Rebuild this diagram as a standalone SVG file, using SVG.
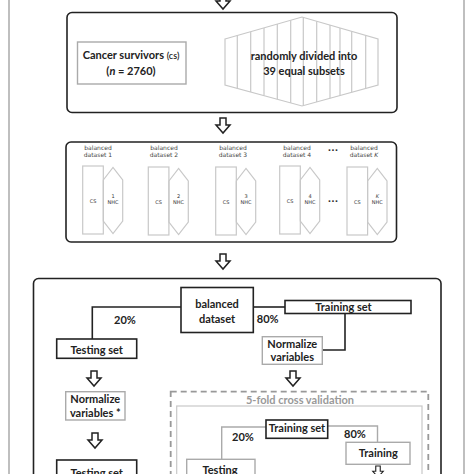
<svg xmlns="http://www.w3.org/2000/svg" width="474" height="474" viewBox="0 0 474 474">
<defs>
<style>
.t{font-family:Lato,"Liberation Sans",sans-serif;font-weight:bold;font-size:11px;fill:#222;text-anchor:middle}
.tg{font-family:Lato,"Liberation Sans",sans-serif;font-weight:bold;font-size:11px;fill:#999;text-anchor:middle}
.s{font-family:"DejaVu Sans",sans-serif;font-size:6px;fill:#444;text-anchor:middle}
.xs{font-family:"DejaVu Sans",sans-serif;font-size:5px;fill:#333;text-anchor:middle}
.dots{font-family:"DejaVu Sans",sans-serif;font-size:9px;fill:#333;text-anchor:middle;font-weight:bold}
.blk{fill:#fff;stroke:#222;stroke-width:1.6}
.gry{fill:#fff;stroke:#aaa;stroke-width:1.4}
.lgry{fill:none;stroke:#c8c8c8;stroke-width:1.2}
.ln{fill:none;stroke:#222;stroke-width:1.6}
.lng{fill:none;stroke:#aaa;stroke-width:1.4}
.arr{fill:#fff;stroke:#222;stroke-width:1.5;stroke-linejoin:miter}
</style>
<path id="arrow" d="M-3,0 h6 v7 h4 l-7,8 l-7,-8 h4 z"/>
<g id="ds">
<rect x="0" y="0" width="20.6" height="68" class="lgry" fill="#fff"/>
<path d="M20.6,14 L30.3,1.5 L40,14 L40,55 L30.3,67.5 L20.6,55 Z" class="lgry"/>
<text x="10.3" y="37" class="xs">CS</text>
</g>
</defs>

<!-- outer frame lines -->
<line x1="9" y1="0" x2="9" y2="474" stroke="#aaa" stroke-width="1.5"/>
<line x1="464" y1="0" x2="464" y2="474" stroke="#aaa" stroke-width="1.5"/>

<!-- Box 1 -->
<g id="box1">
<rect x="67" y="12.5" width="330" height="100" rx="5" class="blk"/>
<g id="cs">
<rect x="77.5" y="42" width="108.5" height="42" class="gry"/>
<text x="131" y="59" class="t">Cancer survivors <tspan font-size="9" font-weight="600">(cs)</tspan></text>
<text x="131" y="75" class="t">(<tspan font-style="italic">n</tspan> = 2760)</text>
</g>
<g id="subsets">
<path d="M225,39 L302,17 L378,39 L378,85 L302,106 L225,85 Z" class="lgry"/>
<path class="lgry" d="M237.3,35.5V88.4M250.7,31.7V92M264,27.9V95.6M277.3,24.1V99.3M290.7,20.2V102.9M303.3,17.4V105.6M316.7,21.3V101.9M330,25.1V98.3M340,28V95.5M351.7,31.4V92.3M365.7,35.4V88.4"/>
<text x="304" y="60" class="t">randomly divided into</text>
<text x="304" y="75" class="t">39 equal subsets</text>
</g>
</g>

<!-- Box 2 -->
<g id="box2">
<rect x="66" y="142" width="330.5" height="100" rx="5" class="blk"/>
<g id="d1"><use href="#ds" x="82.7" y="166"/><text x="113" y="197.5" class="xs">1</text><text x="113" y="203.5" class="xs">NHC</text>
<text x="98" y="149.5" class="s">balanced</text><text x="98" y="156.5" class="s">dataset 1</text></g>
<g id="d2"><use href="#ds" x="148.3" y="167"/><text x="178.6" y="198" class="xs">2</text><text x="178.6" y="204" class="xs">NHC</text>
<text x="164" y="149.5" class="s">balanced</text><text x="164" y="156.5" class="s">dataset 2</text></g>
<g id="d3"><use href="#ds" x="215.7" y="167"/><text x="246" y="198" class="xs">3</text><text x="246" y="204" class="xs">NHC</text>
<text x="233" y="149.5" class="s">balanced</text><text x="233" y="156.5" class="s">dataset 3</text></g>
<g id="d4"><use href="#ds" x="279.7" y="166"/><text x="310" y="197.5" class="xs">4</text><text x="310" y="203.5" class="xs">NHC</text>
<text x="297" y="149.5" class="s">balanced</text><text x="297" y="156.5" class="s">dataset 4</text></g>
<g id="dk"><use href="#ds" x="347" y="167"/><text x="377.3" y="198" class="xs" font-style="italic">K</text><text x="377.3" y="204" class="xs">NHC</text>
<text x="364" y="149.5" class="s">balanced</text><text x="364" y="156.5" class="s">dataset <tspan font-style="italic">K</tspan></text></g>
<text x="333" y="153" class="dots">···</text>
<text x="333" y="204" class="dots">···</text>
</g>

<!-- Box 3 -->
<g id="box3">
<rect x="33.5" y="278.5" width="407.5" height="210" rx="5" class="blk"/>
</g>

<g id="connectors">
<use href="#arrow" x="223" y="-6" class="arr"/>
<use href="#arrow" x="223" y="118" class="arr"/>
<use href="#arrow" x="223" y="254" class="arr"/>
<use href="#arrow" x="94" y="371" class="arr"/>
<use href="#arrow" x="293" y="371" class="arr"/>
<use href="#arrow" x="95" y="433" class="arr"/>
<use href="#arrow" transform="translate(378,466) scale(0.75)" class="arr"/>
<path d="M181,307 H92.3 V339" class="ln"/>
<path d="M253.3,307 H285" class="ln"/>
<path d="M345,313.3 V350 H322.3" class="ln"/>
<path d="M266,427 H221.7 V459.3" class="lng"/>
<path d="M327.7,426 H377.5 V442.3" class="lng"/>
<text x="125" y="324" class="t">20%</text>
<text x="267.7" y="323" class="t">80%</text>
<text x="243" y="441" class="t">20%</text>
<text x="355" y="438" class="t">80%</text>
</g>

<g id="balanced">
<rect x="181" y="287.5" width="72.3" height="45" class="blk"/>
<text x="217" y="308" class="t">balanced</text>
<text x="217" y="323" class="t">dataset</text>
</g>
<g id="train1">
<rect x="285" y="300.5" width="126" height="13" class="blk"/>
<text x="343.5" y="311" class="t">Training set</text>
</g>
<g id="test1">
<rect x="56.7" y="339" width="80" height="19.3" class="blk"/>
<text x="96.7" y="353.5" class="t">Testing set</text>
</g>
<g id="norm1">
<rect x="262.3" y="336.7" width="60" height="27.6" class="gry"/>
<text x="292.3" y="348" class="t">Normalize</text>
<text x="292.3" y="361" class="t">variables</text>
</g>
<g id="norm2">
<rect x="65.7" y="391.7" width="59.3" height="28.3" class="gry"/>
<text x="95.3" y="403" class="t">Normalize</text>
<text x="95.3" y="416.5" class="t">variables *</text>
</g>
<g id="test2">
<rect x="56.7" y="460" width="80" height="30" class="blk"/>
<text x="96.7" y="477" class="t">Testing set</text>
</g>
<g id="cv">
<rect x="170.7" y="391.7" width="257.6" height="100" fill="none" stroke="#999" stroke-width="1.8" stroke-dasharray="6,4"/>
<text x="300" y="404" class="tg">5-fold cross validation</text>
<rect x="176.7" y="406" width="245.3" height="90" class="lgry"/>
</g>
<g id="train2">
<rect x="266" y="420" width="61.7" height="18.3" class="blk"/>
<text x="297" y="431.5" class="t">Training set</text>
</g>
<g id="train3">
<rect x="346" y="442.3" width="64" height="22" class="gry"/>
<text x="378.3" y="457.3" class="t">Training</text>
</g>
<g id="test3">
<rect x="186.7" y="459.3" width="68.3" height="30" class="gry"/>
<text x="220" y="473.5" class="t">Testing</text>
</g>
</svg>
